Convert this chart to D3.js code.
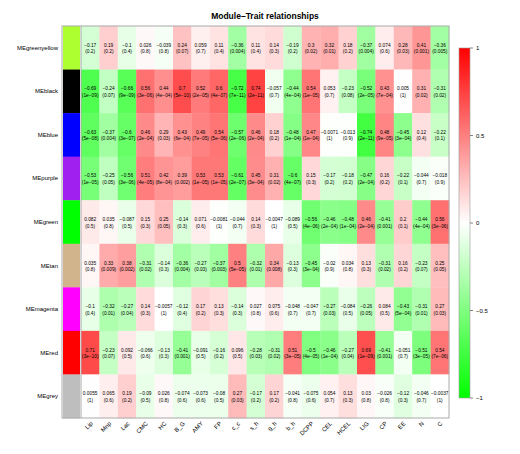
<!DOCTYPE html>
<html><head><meta charset="utf-8">
<script src="https://cdn.jsdelivr.net/npm/d3@7"></script>
<style>body{margin:0;background:#fff}</style></head>
<body><svg id="c" width="520" height="454"></svg>
<script>
const traits=["Lip","Mnp","Lac","CMC","HC","B_G","AMY","FP","c_c","s_h","g_h","b_h","DCPP","CEL","HCEL","LIG","CP","EE","N","C"];
const modules=["MEgreenyellow","MEblack","MEblue","MEpurple","MEgreen","MEtan","MEmagenta","MEred","MEgrey"];
const moduleColors=["#adff2f","#000000","#0000ff","#a020f0","#00ff00","#d2b48c","#ff00ff","#ff0000","#bebebe"];
const corr=[
[-0.17,0.19,-0.1,0.026,-0.039,0.24,0.059,0.11,-0.36,0.11,0.14,-0.19,0.3,0.32,0.18,-0.37,0.074,0.28,0.41,-0.36],
[-0.69,-0.24,-0.66,0.56,0.44,0.7,0.52,0.6,-0.72,0.74,-0.057,-0.44,0.54,0.053,-0.23,-0.52,0.43,0.005,0.31,-0.31],
[-0.63,-0.37,-0.6,0.46,0.29,0.43,0.49,0.54,-0.57,0.46,0.18,-0.48,0.47,-0.0071,-0.013,-0.74,0.48,-0.45,0.12,-0.22],
[-0.53,-0.25,-0.56,0.51,0.42,0.39,0.53,0.53,-0.61,0.45,0.31,-0.6,0.15,-0.17,-0.18,-0.47,0.16,-0.22,-0.044,-0.018],
[0.082,0.035,-0.087,0.15,0.25,-0.14,0.071,-0.0081,-0.044,0.14,-0.0047,-0.089,-0.56,-0.46,-0.48,0.46,-0.41,0.2,-0.44,0.56],
[0.035,0.33,0.38,-0.31,-0.14,-0.36,-0.27,-0.37,0.5,-0.32,0.34,-0.13,-0.45,-0.02,0.034,0.13,-0.31,0.16,-0.23,0.25],
[-0.1,-0.32,-0.27,0.14,-0.0057,-0.12,0.17,0.13,-0.14,0.027,0.075,-0.048,-0.047,-0.27,-0.084,-0.26,0.084,-0.43,-0.31,0.27],
[0.71,-0.23,0.092,-0.066,-0.13,-0.41,-0.091,-0.16,0.096,-0.28,-0.31,0.51,-0.5,-0.46,-0.27,0.69,-0.41,-0.051,-0.51,0.54],
[0.0055,0.065,0.19,-0.09,0.026,-0.074,-0.073,-0.08,0.27,-0.17,0.17,-0.041,-0.075,0.054,0.13,0.03,-0.026,-0.12,-0.046,-0.0037]];
const pval=[
["0.2","0.2","0.4","0.8","0.8","0.07","0.7","0.4","0.004","0.4","0.3","0.2","0.02","0.01","0.2","0.004","0.6","0.03","0.001","0.005"],
["1e-09","0.07","9e-09","3e-06","4e-04","5e-10","2e-05","4e-07","7e-11","2e-11","0.7","4e-04","1e-05","0.7","0.08","2e-05","7e-04","1","0.02","0.02"],
["5e-08","0.004","3e-07","2e-04","0.03","6e-04","7e-05","5e-06","2e-06","2e-04","0.2","1e-04","1e-04","1","0.9","2e-11","9e-05","3e-04","0.4","0.1"],
["1e-05","0.05","3e-06","4e-05","8e-04","0.002","1e-05","1e-05","2e-07","3e-04","0.02","4e-07","0.3","0.2","0.2","2e-04","0.2","0.1","0.7","0.9"],
["0.5","0.8","0.5","0.3","0.05","0.3","0.6","1","0.7","0.3","1","0.5","4e-06","2e-04","1e-04","2e-04","0.001","0.1","4e-04","3e-06"],
["0.8","0.009","0.002","0.02","0.3","0.004","0.03","0.003","5e-05","0.01","0.008","0.3","3e-04","0.9","0.8","0.3","0.02","0.2","0.07","0.05"],
["0.4","0.01","0.04","0.3","1","0.4","0.2","0.3","0.3","0.8","0.6","0.7","0.7","0.03","0.5","0.05","0.5","5e-04","0.01","0.03"],
["3e-10","0.07","0.5","0.6","0.3","0.001","0.5","0.2","0.5","0.03","0.02","3e-05","4e-05","1e-04","0.04","1e-09","0.001","0.7","3e-05","7e-06"],
["1","0.6","0.2","0.5","0.8","0.6","0.6","0.5","0.03","0.2","0.2","0.8","0.6","0.7","0.3","0.8","0.8","0.3","0.7","1"]];
const legendTicks=[1,0.5,0,-0.5,-1];

const svg=d3.select("#c");
const L=81,R=449,T=26,B=418;
const x=d3.scaleBand().domain(traits).range([L,R]);
const y=d3.scaleBand().domain(modules).range([T,B]);
const col=d3.scaleLinear().domain([-1,0,1]).range(["#00ff00","#ffffff","#ff0000"]);
const fmt=v=>String(v).replace("-","\u2212");

svg.append("text").attr("x",265).attr("y",19).attr("text-anchor","middle")
 .attr("font-family","Liberation Sans, Arial").attr("font-weight","bold").attr("font-size",8.5)
 .text("Module\u2013Trait relationships");

const g=svg.append("g");
modules.forEach((m,i)=>{
 traits.forEach((t,j)=>{
  const v=corr[i][j];
  g.append("rect").attr("x",x(t)).attr("y",y(m)).attr("width",x.bandwidth()+0.3).attr("height",y.bandwidth()+0.3).attr("fill",col(v));
  const cx=x(t)+x.bandwidth()/2, cy=y(m)+y.bandwidth()/2;
  g.append("text").attr("x",cx).attr("y",cy-1).attr("text-anchor","middle").attr("font-size",4.8)
   .attr("font-family","Liberation Sans, Arial").text(fmt(v));
  g.append("text").attr("x",cx).attr("y",cy+5.5).attr("text-anchor","middle").attr("font-size",4.8)
   .attr("font-family","Liberation Sans, Arial").text("("+fmt(pval[i][j])+")");
 });
 svg.append("rect").attr("x",63).attr("y",y(m)).attr("width",17).attr("height",y.bandwidth()+0.3).attr("fill",moduleColors[i]);
 svg.append("text").attr("x",58).attr("y",y(m)+y.bandwidth()/2+2).attr("text-anchor","end")
  .attr("font-size",6).attr("font-family","Liberation Sans, Arial").text(m);
});
svg.append("rect").attr("x",62).attr("y",T).attr("width",R-62).attr("height",B-T).attr("fill","none").attr("stroke","#aaa").attr("stroke-width",1);
svg.append("line").attr("x1",L).attr("x2",L).attr("y1",T).attr("y2",B).attr("stroke","#aaa");

traits.forEach(t=>{
 const cx=x(t)+x.bandwidth()/2+3;
 svg.append("text").attr("transform",`translate(${cx},${B+6}) rotate(-45)`).attr("text-anchor","end")
  .attr("font-size",6).attr("font-family","Liberation Sans, Arial").text(t);
});

const ly=d3.scaleLinear().domain([-1,1]).range([398,48]);
const defs=svg.append("defs");
const gr=defs.append("linearGradient").attr("id","lg").attr("x1",0).attr("x2",0).attr("y1",1).attr("y2",0);
[-1,0,1].forEach((v,k)=>gr.append("stop").attr("offset",k/2).attr("stop-color",col(v)));
svg.append("rect").attr("x",459).attr("y",48).attr("width",11).attr("height",350).attr("fill","url(#lg)").attr("stroke","#999").attr("stroke-width",0.6);
legendTicks.forEach(v=>{
 svg.append("line").attr("x1",470).attr("x2",473).attr("y1",ly(v)).attr("y2",ly(v)).attr("stroke","#333").attr("stroke-width",0.6);
 svg.append("text").attr("x",476).attr("y",ly(v)+2).attr("font-size",6).attr("font-family","Liberation Sans, Arial").text(fmt(v));
});
</script></body></html>
